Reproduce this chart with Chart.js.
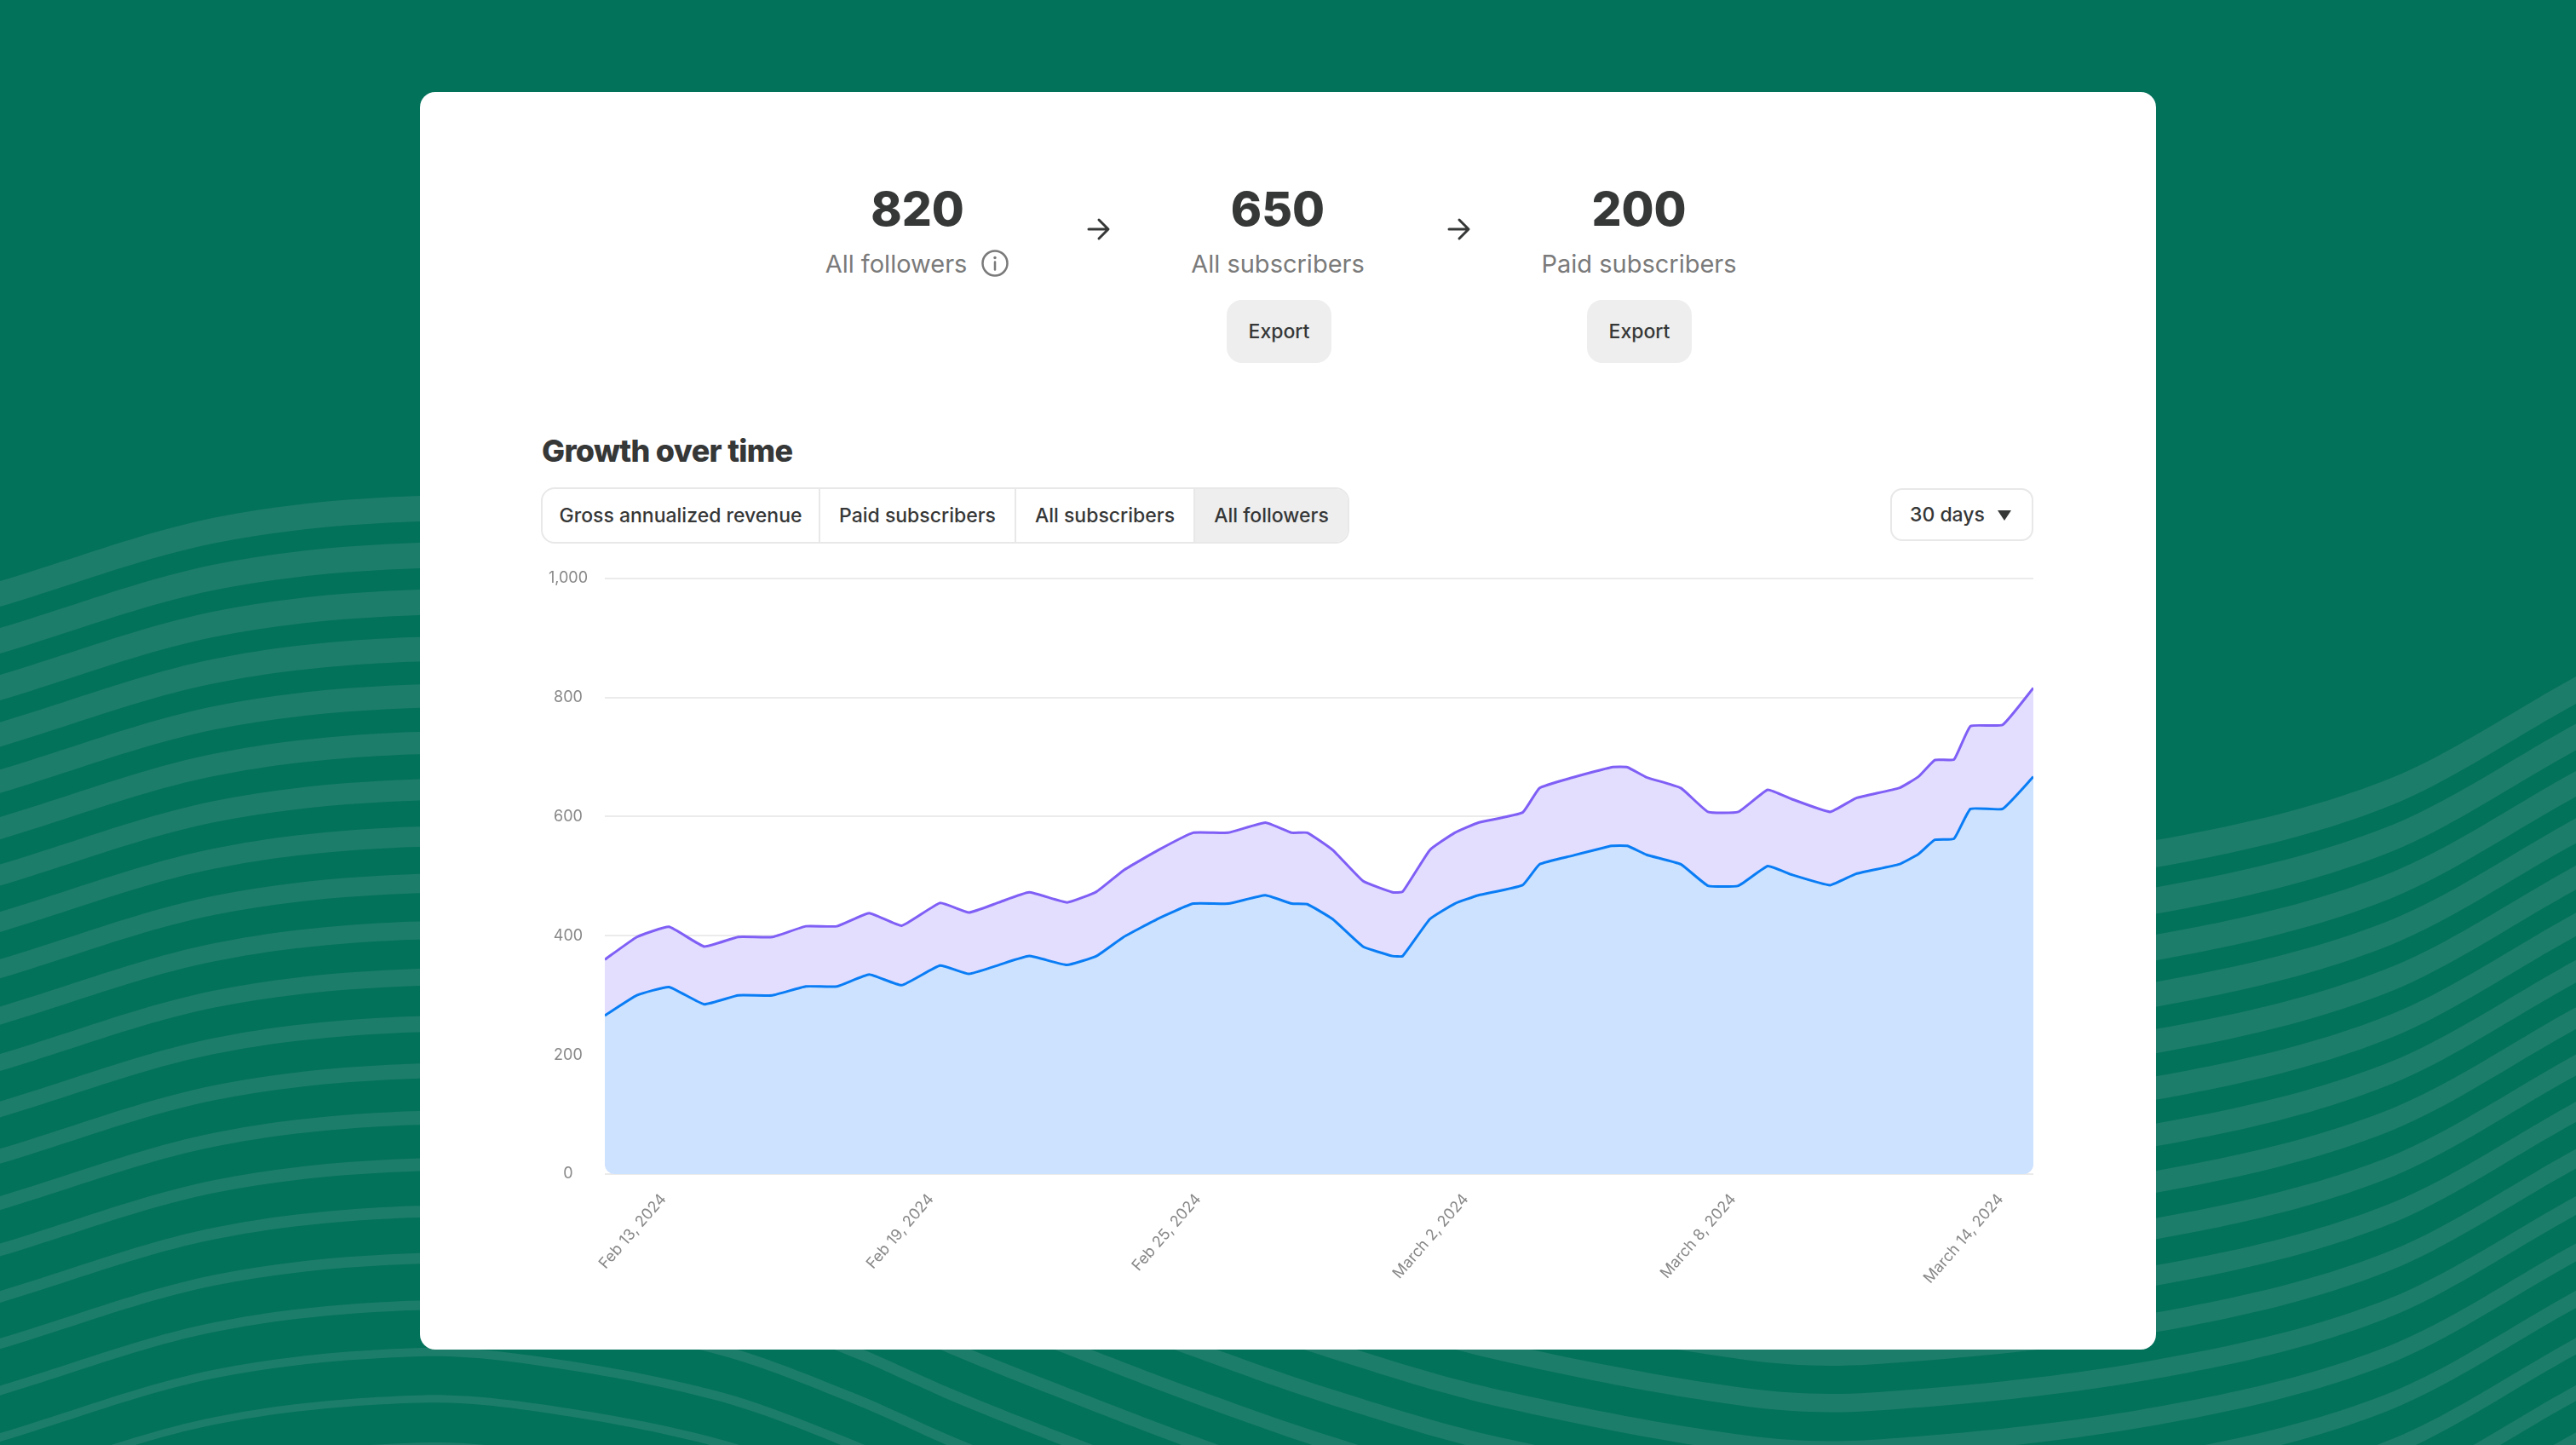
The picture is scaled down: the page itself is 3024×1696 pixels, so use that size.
<!DOCTYPE html>
<html lang="en">
<head>
<meta charset="UTF-8">
<title>Growth over time</title>
<script src="https://cdn.jsdelivr.net/npm/chart.js"></script>
<style>
    html, body { margin: 0; padding: 0; width: 3024px; height: 1696px; overflow: hidden; background: #03725b; font-family: Inter, "Noto Sans", sans-serif; color: #363737; }
    canvas { position: absolute; display: block; }
    #card { position: absolute; left: 493px; top: 108px; width: 2038px; height: 1476px; background: #fff; border-radius: 18px; }
    .t { position: absolute; white-space: nowrap; transform: translate(-50%, -50%); }
    .num { font-size: 55px; font-weight: 800; top: 245px; }
    .sub { font-size: 29px; top: 309px; color: #7a7a7a; }
    .btn { position: absolute; top: 352px; height: 74px; background: #eee; border-radius: 18px; font-size: 23px; font-weight: 500; line-height: 74px; text-align: center; }
    h2 { position: absolute; left: 636px; top: 507px; margin: 0; font-size: 36px; font-weight: 800; letter-spacing: -0.7px; line-height: 44px; }
    #tabs { position: absolute; left: 635px; top: 572px; width: 945px; height: 62px; border: 2px solid #e8e8e8; border-radius: 16px; display: flex; overflow: hidden; font-size: 23px; font-weight: 500; line-height: 62px; }
    #tabs div { text-align: center; border-right: 2px solid #e8e8e8; box-sizing: border-box; }
    #tabs div:last-child { border-right: 0; background: #eee; flex: 1; }
    #range { position: absolute; left: 2219px; top: 573px; width: 164px; height: 58px; border: 2px solid #e8e8e8; border-radius: 14px; font-size: 23px; font-weight: 500; line-height: 58px; }
    #range span { position: absolute; left: 21px; }
    svg { position: absolute; overflow: visible; }
</style>
</head>
<body>
<canvas id="waves" width="3024" height="1696" style="left:0;top:0"></canvas>
<div id="card"></div>

<div class="t num" style="left:1077px">820</div>
<div class="t sub" style="left:1052px">All followers</div>
<svg style="left:1152px;top:293px" width="32" height="32" viewBox="0 0 32 32">
    <circle cx="16" cy="16" r="14.5" fill="none" stroke="#7a7a7a" stroke-width="2.5"/>
    <path d="M16 14.5v9" stroke="#7a7a7a" stroke-width="2.5" stroke-linecap="round"/>
    <circle cx="16" cy="9.5" r="1.7" fill="#7a7a7a"/>
</svg>
<svg style="left:1276px;top:256px" width="26" height="26" viewBox="0 0 26 26">
    <path d="M2 13h22M14 2l11 11-11 11" fill="none" stroke="#363737" stroke-width="3" stroke-linecap="round" stroke-linejoin="round"/>
</svg>
<div class="t num" style="left:1500px">650</div>
<div class="t sub" style="left:1500px">All subscribers</div>
<div class="btn" style="left:1440px;width:123px">Export</div>
<svg style="left:1699px;top:256px" width="26" height="26" viewBox="0 0 26 26">
    <path d="M2 13h22M14 2l11 11-11 11" fill="none" stroke="#363737" stroke-width="3" stroke-linecap="round" stroke-linejoin="round"/>
</svg>
<div class="t num" style="left:1924px">200</div>
<div class="t sub" style="left:1924px">Paid subscribers</div>
<div class="btn" style="left:1863px;width:123px">Export</div>

<h2>Growth over time</h2>
<div id="tabs">
    <div style="width:326px">Gross annualized revenue</div>
    <div style="width:230px">Paid subscribers</div>
    <div style="width:210px">All subscribers</div>
    <div>All followers</div>
</div>
<div id="range"><span>30 days</span>
    <svg style="left:124px;top:24px" width="16" height="12" viewBox="0 0 16 12"><path d="M0 0h16l-8 12z" fill="#363737"/></svg>
</div>

<canvas id="growthChart" width="1757" height="872" style="left:630px;top:648px;width:1757px;height:872px"></canvas>

<script>
    // values, x is days after Feb 13, 2024
    const xDays = [-1.39, -0.67, 0.05, 0.84, 1.60, 2.37, 3.12, 3.82, 4.54, 5.27, 6.13, 6.78, 7.45, 8.13, 8.98, 9.64, 10.25, 11.03, 11.81, 12.60, 13.43, 14.02, 14.37, 14.94, 15.62, 16.28, 16.51, 17.12, 17.68, 18.21, 19.20, 19.58, 20.29, 21.20, 21.55, 21.98, 22.75, 23.36, 24.04, 24.70, 25.22, 26.10, 26.68, 27.65, 28.08, 28.45, 28.88, 29.25, 29.97, 30.66];
    const allFollowers = [360, 398, 415, 382, 398, 398, 416, 416, 438, 417, 455, 439, 456, 473, 456, 474, 510, 544, 573, 573, 590, 573, 573, 544, 492, 473, 474, 544, 573, 590, 607, 648, 665, 683, 683, 666, 648, 608, 608, 645, 630, 608, 631, 648, 667, 695, 696, 752, 754, 816];
    const allSubscribers = [266, 300, 314, 285, 300, 300, 315, 315, 335, 317, 350, 336, 351, 366, 351, 366, 398, 429, 454, 454, 468, 454, 453, 428, 382, 366, 366, 428, 454, 468, 485, 520, 534, 551, 551, 536, 520, 484, 484, 517, 503, 485, 504, 520, 537, 561, 563, 613, 613, 667];
    const tickDays = [0, 6, 12, 18, 24, 30];
    const tickLabels = ['Feb 13, 2024', 'Feb 19, 2024', 'Feb 25, 2024', 'March 2, 2024', 'March 8, 2024', 'March 14, 2024'];

    // stripes in the page background
    const waveX = [0, 250, 493, 650, 848, 999, 1124, 1262, 1406, 1564, 1755, 2050, 2200, 2531, 2800, 3024];
    const waveY = [697, 623, 597, 610, 650, 705, 760, 815, 870, 925, 980, 1035, 1040, 1002, 932, 810];

    function waveAt(x) {
        let i = 0;
        while (i < waveX.length - 2 && x > waveX[i + 1]) i++;
        const h = waveX[i + 1] - waveX[i];
        const slope = j => {
            const a = Math.max(j - 1, 0), b = Math.min(j + 1, waveX.length - 1);
            return (waveY[b] - waveY[a]) / (waveX[b] - waveX[a]);
        };
        const t = (x - waveX[i]) / h;
        return (2*t*t*t - 3*t*t + 1) * waveY[i] + (t*t*t - 2*t*t + t) * h * slope(i)
            + (-2*t*t*t + 3*t*t) * waveY[i + 1] + (t*t*t - t*t) * h * slope(i + 1);
    }

    function drawWaves() {
        const ctx = document.getElementById('waves').getContext('2d');
        ctx.fillStyle = '#1c7d6a';
        for (let k = 0; k < 26; k++) {
            const offset = 55 * k;
            const width = x => {
                const left = Math.max(30 - Math.max(k - 2, 0) * 1.25, 5);
                const right = Math.max(32 - k * 0.9, 10);
                const t = Math.min(Math.max((x - 493) / 2038, 0), 1);
                return left + (right - left) * t;
            };
            ctx.beginPath();
            for (let x = 0; x <= 3024; x += 12) ctx.lineTo(x, waveAt(x) + offset - width(x) / 2);
            for (let x = 3024; x >= 0; x -= 12) ctx.lineTo(x, waveAt(x) + offset + width(x) / 2);
            ctx.closePath();
            ctx.fill();
        }
    }
    drawWaves();

    // rounds the bottom corners of the filled area
    const roundedArea = {
        id: 'roundedArea',
        beforeDatasetsDraw(chart) {
            const { ctx, chartArea: a } = chart;
            ctx.save();
            ctx.beginPath();
            ctx.roundRect(a.left, a.top - 10, a.right - a.left, a.bottom - a.top + 10, [0, 0, 12, 12]);
            ctx.clip();
        },
        afterDatasetsDraw(chart) {
            chart.ctx.restore();
        }
    };

    const toPoints = values => values.map((y, i) => ({ x: xDays[i], y }));

    new Chart(document.getElementById('growthChart'), {
        type: 'line',
        plugins: [roundedArea],
        data: {
            datasets: [
                {
                    label: 'All subscribers',
                    data: toPoints(allSubscribers),
                    borderColor: '#0a7df5',
                    backgroundColor: '#cce2fe',
                    borderWidth: 3,
                    fill: 'origin',
                    pointRadius: 0,
                    tension: 0.12
                },
                {
                    label: 'All followers',
                    data: toPoints(allFollowers),
                    borderColor: '#7f5ff5',
                    backgroundColor: '#e3defe',
                    borderWidth: 3,
                    fill: 'origin',
                    pointRadius: 0,
                    tension: 0.12
                }
            ]
        },
        options: {
            responsive: false,
            animation: false,
            plugins: { legend: { display: false }, tooltip: { enabled: false } },
            scales: {
                x: {
                    type: 'linear',
                    min: xDays[0],
                    max: xDays[xDays.length - 1],
                    afterBuildTicks: scale => { scale.ticks = tickDays.map(value => ({ value })); },
                    afterFit: scale => { scale.height = 142; },
                    grid: { display: false },
                    border: { display: false },
                    ticks: {
                        autoSkip: false,
                        minRotation: 49,
                        maxRotation: 49,
                        padding: 11,
                        labelOffset: -4,
                        color: '#888',
                        font: { family: 'Inter', size: 18 },
                        callback: value => tickLabels[tickDays.indexOf(value)]
                    }
                },
                y: {
                    min: 0,
                    max: 1000,
                    afterFit: scale => { scale.width = 80; },
                    grid: { color: '#ebebeb', lineWidth: 2, drawTicks: false },
                    border: { display: false },
                    ticks: {
                        stepSize: 200,
                        padding: 20,
                        crossAlign: 'center',
                        color: '#888',
                        font: { family: 'Inter', size: 18 }
                    }
                }
            }
        }
    });
</script>
</body>
</html>
